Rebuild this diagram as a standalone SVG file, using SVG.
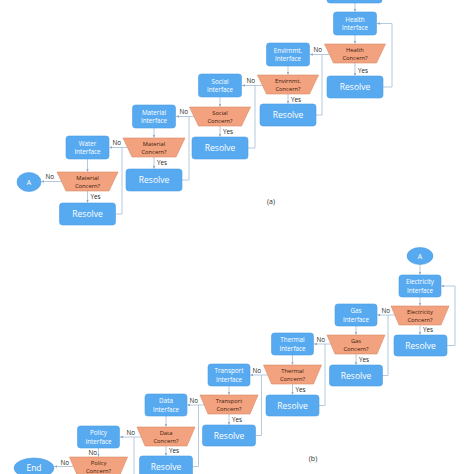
<svg xmlns="http://www.w3.org/2000/svg" width="474" height="474" viewBox="0 0 474 474">
<style>
.box{fill:#58aaf0;stroke:#4b9de3;stroke-width:0.6}
.trap{fill:#f2a27e;stroke:#d98a66;stroke-width:0.6}
.it{font-family:"Open Sans","Liberation Sans",sans-serif;font-size:6.3px;fill:#ffffff;text-anchor:middle}
.rt{font-family:"Open Sans","Liberation Sans",sans-serif;font-size:8.5px;fill:#ffffff;text-anchor:middle}
.tt{font-family:"Open Sans","Liberation Sans",sans-serif;font-size:5.8px;fill:#3a1a0c;text-anchor:middle}
.lb{font-family:"Open Sans","Liberation Sans",sans-serif;font-size:6.3px;fill:#222222}
.cap{font-family:"Open Sans","Liberation Sans",sans-serif;font-size:7px;fill:#333333;text-anchor:middle}
.ln{fill:none;stroke:#a3bdd4;stroke-width:0.8}
</style>
<defs>
<marker id="ah" viewBox="0 0 6 6" refX="5.5" refY="3" markerWidth="4" markerHeight="4" orient="auto">
<path d="M0,0.5 L6,3 L0,5.5 z" fill="#8fa9c2"/>
</marker>
</defs>
<rect width="474" height="474" fill="#ffffff"/>

<g id="connectors">
<!-- (a) -->
<path class="ln" d="M355,3 V11.5" marker-end="url(#ah)"/>
<path class="ln" d="M355,35 V43.5" marker-end="url(#ah)"/>
<path class="ln" d="M355,63 V75.5" marker-end="url(#ah)"/>
<path class="ln" d="M383,87 H392 V23.5 H377" marker-end="url(#ah)"/>
<path class="ln" d="M329,54.5 H322"/>
<path class="ln" d="M288,66 V74.5" marker-end="url(#ah)"/>
<path class="ln" d="M288,94 V103.5" marker-end="url(#ah)"/>
<path class="ln" d="M316,115 H322 V54.5 H310" marker-end="url(#ah)"/>
<path class="ln" d="M262.5,85.5 H255"/>
<path class="ln" d="M220,97 V106.5" marker-end="url(#ah)"/>
<path class="ln" d="M220,126 V136.5" marker-end="url(#ah)"/>
<path class="ln" d="M248,148 H255 V85.5 H242" marker-end="url(#ah)"/>
<path class="ln" d="M194,116.5 H189"/>
<path class="ln" d="M154,128 V137.5" marker-end="url(#ah)"/>
<path class="ln" d="M154,157 V168.5" marker-end="url(#ah)"/>
<path class="ln" d="M182,180 H189 V116.5 H176" marker-end="url(#ah)"/>
<path class="ln" d="M127.5,147.5 H122"/>
<path class="ln" d="M87.5,159 V171.5" marker-end="url(#ah)"/>
<path class="ln" d="M87.5,191 V202.5" marker-end="url(#ah)"/>
<path class="ln" d="M115.5,214 H122 V147.5 H109.5" marker-end="url(#ah)"/>
<path class="ln" d="M61.5,181.5 H41.5" marker-end="url(#ah)"/>
<!-- (b) -->
<path class="ln" d="M420,264.5 V274.5" marker-end="url(#ah)"/>
<path class="ln" d="M420,297 V305.5" marker-end="url(#ah)"/>
<path class="ln" d="M420,325 V334.5" marker-end="url(#ah)"/>
<path class="ln" d="M447,345.5 H455 V286 H441.5" marker-end="url(#ah)"/>
<path class="ln" d="M394.8,315 H388"/>
<path class="ln" d="M356,326 V334.5" marker-end="url(#ah)"/>
<path class="ln" d="M356,354 V364.5" marker-end="url(#ah)"/>
<path class="ln" d="M382.5,375.5 H388 V315 H377.5" marker-end="url(#ah)"/>
<path class="ln" d="M330.8,344 H325"/>
<path class="ln" d="M292.5,355 V364.5" marker-end="url(#ah)"/>
<path class="ln" d="M292.5,384 V394.5" marker-end="url(#ah)"/>
<path class="ln" d="M319,405.5 H325 V344 H314" marker-end="url(#ah)"/>
<path class="ln" d="M267.5,375 H261.5"/>
<path class="ln" d="M229,386 V394.5" marker-end="url(#ah)"/>
<path class="ln" d="M229,414 V424.5" marker-end="url(#ah)"/>
<path class="ln" d="M255.5,435.5 H261.5 V375 H250.5" marker-end="url(#ah)"/>
<path class="ln" d="M204.5,405 H198.5"/>
<path class="ln" d="M166,416 V426.5" marker-end="url(#ah)"/>
<path class="ln" d="M166,446 V455.5" marker-end="url(#ah)"/>
<path class="ln" d="M192.5,466.5 H198.5 V405 H187.5" marker-end="url(#ah)"/>
<path class="ln" d="M141.7,437 H134"/>
<path class="ln" d="M134,480 V437 H120" marker-end="url(#ah)"/>
<path class="ln" d="M98.5,448 V456.5" marker-end="url(#ah)"/>
<path class="ln" d="M73,466.5 H54.5" marker-end="url(#ah)"/>
</g>

<g id="labels">
<text class="lb" x="322" y="52" text-anchor="end">No</text>
<text class="lb" x="358" y="73">Yes</text>
<text class="lb" x="255" y="83" text-anchor="end">No</text>
<text class="lb" x="291" y="102">Yes</text>
<text class="lb" x="188" y="114" text-anchor="end">No</text>
<text class="lb" x="223" y="134">Yes</text>
<text class="lb" x="121" y="145" text-anchor="end">No</text>
<text class="lb" x="157" y="165">Yes</text>
<text class="lb" x="54" y="179" text-anchor="end">No</text>
<text class="lb" x="90.5" y="199">Yes</text>
<text class="cap" x="271" y="204">(a)</text>

<text class="lb" x="390" y="313" text-anchor="end">No</text>
<text class="lb" x="423" y="332">Yes</text>
<text class="lb" x="325" y="342" text-anchor="end">No</text>
<text class="lb" x="359" y="362">Yes</text>
<text class="lb" x="261" y="373" text-anchor="end">No</text>
<text class="lb" x="295.5" y="392">Yes</text>
<text class="lb" x="198" y="403" text-anchor="end">No</text>
<text class="lb" x="232" y="422">Yes</text>
<text class="lb" x="135" y="435" text-anchor="end">No</text>
<text class="lb" x="169" y="453">Yes</text>
<text class="lb" x="97" y="454.5" text-anchor="end">No</text>
<text class="lb" x="69" y="465" text-anchor="end">No</text>
<text class="cap" x="313" y="461">(b)</text>
</g>

<!-- (a) nodes -->
<g id="top-box"><rect class="box" x="327" y="-20" width="55" height="23" rx="3"/></g>

<g id="health-interface"><rect class="box" x="333.5" y="12" width="43" height="23" rx="3"/>
<text class="it" x="355" y="21.5">Health</text><text class="it" x="355" y="30">Interface</text></g>
<g id="health-concern"><path class="trap" d="M324.5,44 H385.5 L376.5,63 H333.5 Z"/>
<text class="tt" x="355" y="52">Health</text><text class="tt" x="355" y="59.5">Concern?</text></g>
<g id="health-resolve"><rect class="box" x="327" y="76" width="56" height="22" rx="3"/>
<text class="rt" x="355" y="90">Resolve</text></g>

<g id="envirmt-interface"><rect class="box" x="266.5" y="43" width="43" height="23" rx="3"/>
<text class="it" x="288" y="52.5">Envirnmt.</text><text class="it" x="288" y="61">Interface</text></g>
<g id="envirmt-concern"><path class="trap" d="M257.5,75 H318.5 L309.5,94 H266.5 Z"/>
<text class="tt" x="288" y="83">Envirnmt.</text><text class="tt" x="288" y="90.5">Concern?</text></g>
<g id="envirmt-resolve"><rect class="box" x="260" y="104" width="56" height="22" rx="3"/>
<text class="rt" x="288" y="118">Resolve</text></g>

<g id="social-interface"><rect class="box" x="198.5" y="74" width="43" height="23" rx="3"/>
<text class="it" x="220" y="83.5">Social</text><text class="it" x="220" y="92">Interface</text></g>
<g id="social-concern"><path class="trap" d="M189.5,107 H250.5 L241.5,126 H198.5 Z"/>
<text class="tt" x="220" y="115">Social</text><text class="tt" x="220" y="122.5">Concern?</text></g>
<g id="social-resolve"><rect class="box" x="192" y="137" width="56" height="22" rx="3"/>
<text class="rt" x="220" y="151">Resolve</text></g>

<g id="material-interface"><rect class="box" x="132.5" y="105" width="43" height="23" rx="3"/>
<text class="it" x="154" y="114.5">Material</text><text class="it" x="154" y="123">Interface</text></g>
<g id="material-concern"><path class="trap" d="M123,138 H185 L176,157 H132 Z"/>
<text class="tt" x="154" y="146">Material</text><text class="tt" x="154" y="153.5">Concern?</text></g>
<g id="material-resolve"><rect class="box" x="126" y="169" width="56" height="22" rx="3"/>
<text class="rt" x="154" y="183">Resolve</text></g>

<g id="water-interface"><rect class="box" x="66" y="136" width="43" height="23" rx="3"/>
<text class="it" x="87.5" y="145.5">Water</text><text class="it" x="87.5" y="154">Interface</text></g>
<g id="water-concern"><path class="trap" d="M57,172 H118 L109,191 H66 Z"/>
<text class="tt" x="87.5" y="180">Material</text><text class="tt" x="87.5" y="187.5">Concern?</text></g>
<g id="water-resolve"><rect class="box" x="59.5" y="203" width="56" height="22" rx="3"/>
<text class="rt" x="87.5" y="217">Resolve</text></g>

<g id="a-connector-a"><ellipse class="box" cx="29" cy="182" rx="12" ry="9.5"/>
<text class="it" x="29" y="184.5" style="font-size:7px">A</text></g>

<!-- (b) nodes -->
<g id="b-connector-a"><ellipse class="box" cx="420" cy="256" rx="13" ry="8.5"/>
<text class="it" x="420" y="258.5" style="font-size:7px">A</text></g>

<g id="electricity-interface"><rect class="box" x="399" y="275" width="42" height="22" rx="3"/>
<text class="it" x="420" y="284">Electricity</text><text class="it" x="420" y="292.5">Interface</text></g>
<g id="electricity-concern"><path class="trap" d="M391,306 H449 L441,325 H399 Z"/>
<text class="tt" x="420" y="314">Electricity</text><text class="tt" x="420" y="321.5">Concern?</text></g>
<g id="electricity-resolve"><rect class="box" x="394" y="335" width="53" height="21" rx="3"/>
<text class="rt" x="420.5" y="348.5">Resolve</text></g>

<g id="gas-interface"><rect class="box" x="335" y="304" width="42" height="22" rx="3"/>
<text class="it" x="356" y="313">Gas</text><text class="it" x="356" y="321.5">Interface</text></g>
<g id="gas-concern"><path class="trap" d="M327,335 H385 L377,354 H335 Z"/>
<text class="tt" x="356" y="343">Gas</text><text class="tt" x="356" y="350.5">Concern?</text></g>
<g id="gas-resolve"><rect class="box" x="329.5" y="365" width="53" height="21" rx="3"/>
<text class="rt" x="356" y="378.5">Resolve</text></g>

<g id="thermal-interface"><rect class="box" x="271.5" y="333" width="42" height="22" rx="3"/>
<text class="it" x="292.5" y="342">Thermal</text><text class="it" x="292.5" y="350.5">Interface</text></g>
<g id="thermal-concern"><path class="trap" d="M263.5,365 H321.5 L313.5,384 H271.5 Z"/>
<text class="tt" x="292.5" y="373">Thermal</text><text class="tt" x="292.5" y="380.5">Concern?</text></g>
<g id="thermal-resolve"><rect class="box" x="266" y="395" width="53" height="21" rx="3"/>
<text class="rt" x="292.5" y="408.5">Resolve</text></g>

<g id="transport-interface"><rect class="box" x="208" y="364" width="42" height="22" rx="3"/>
<text class="it" x="229" y="373">Transport</text><text class="it" x="229" y="381.5">Interface</text></g>
<g id="transport-concern"><path class="trap" d="M200,395 H258 L250,414 H208 Z"/>
<text class="tt" x="229" y="403">Transport</text><text class="tt" x="229" y="410.5">Concern?</text></g>
<g id="transport-resolve"><rect class="box" x="202.5" y="425" width="53" height="21" rx="3"/>
<text class="rt" x="229" y="438.5">Resolve</text></g>

<g id="data-interface"><rect class="box" x="145" y="394" width="42" height="22" rx="3"/>
<text class="it" x="166" y="403">Data</text><text class="it" x="166" y="411.5">Interface</text></g>
<g id="data-concern"><path class="trap" d="M137,427 H195 L187,446 H145 Z"/>
<text class="tt" x="166" y="435">Data</text><text class="tt" x="166" y="442.5">Concern?</text></g>
<g id="data-resolve"><rect class="box" x="139.5" y="456" width="53" height="21" rx="3"/>
<text class="rt" x="166" y="469.5">Resolve</text></g>

<g id="policy-interface"><rect class="box" x="77.5" y="426" width="42" height="22" rx="3"/>
<text class="it" x="98.5" y="435">Policy</text><text class="it" x="98.5" y="443.5">Interface</text></g>
<g id="policy-concern"><path class="trap" d="M69.5,457 H127.5 L119.5,476 H77.5 Z"/>
<text class="tt" x="98.5" y="465">Policy</text><text class="tt" x="98.5" y="472.5">Concern?</text></g>

<g id="end"><ellipse class="box" cx="34" cy="468" rx="20" ry="10"/>
<text class="rt" x="34" y="471">End</text></g>
</svg>
